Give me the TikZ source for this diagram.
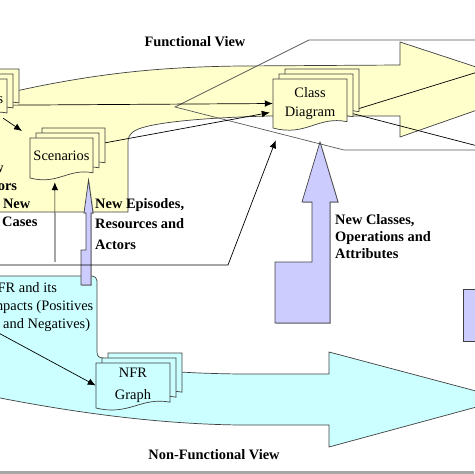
\documentclass[tikz,border=0pt]{standalone}
\usepackage{fontspec}
\setmainfont{Liberation Serif}
\usetikzlibrary{shadows,arrows.meta}

\definecolor{funcfill}{HTML}{FFFFCC}
\definecolor{nfrfill}{HTML}{CCFFFF}
\definecolor{lilacfill}{HTML}{CCCCFF}

\pgfdeclarelayer{shapes}
\pgfdeclarelayer{links}
\pgfsetlayers{shapes,links,main}

% лист документа с волнистым низом
\newcommand{\docpage}[5]{%
  \filldraw[fill=#5, draw=black!75, line width=0.6pt] ({#1},{#2}) -- ({#3},{#2}) -- ({#3},{(#4)-0.13*((#4)-(#2))})
    .. controls ({(#3)-0.4*((#3)-(#1))},{(#4)-0.25*((#4)-(#2))}) and ({(#1)+0.45*((#3)-(#1))},{(#4)+0.18*((#4)-(#2))}) .. ({#1},{#4}) -- cycle;}
% стопка из трёх листов
\newcommand{\docstack}[5]{%
  \docpage{#1+12}{#2-10}{#3+12}{#4-10}{#5}
  \docpage{#1+6}{#2-5}{#3+6}{#4-5}{#5}
  \docpage{#1}{#2}{#3}{#4}{#5}}

\begin{document}
\begin{tikzpicture}[x=0.03cm, y=-0.03cm,
    outline/.style={draw=black!75, line width=0.6pt},
    flow/.style={-{Latex[length=2.4mm,width=2mm]}, line width=0.6pt},
    lilac/.style={outline, fill=lilacfill, drop shadow={shadow xshift=0.8pt, shadow yshift=-0.8pt, fill=black!45, opacity=0.6}},
    doclabel/.style={inner sep=0pt, align=center, font=\fontsize{12.3}{#1}\selectfont},
    note/.style={inner sep=0pt, align=left, anchor=west, font=\fontsize{12.3}{#1}\selectfont\bfseries},
    viewlabel/.style={inner sep=0pt, font=\fontsize{12.3}{15}\selectfont\bfseries}]
	\useasboundingbox (0,0) rectangle (474,474);

	%%% Фоновые фигуры
	\begin{pgfonlayer}{shapes}
	% Функциональный вид
	\filldraw[outline, fill=funcfill] (-10,97) .. controls (90,73) and (160,67) .. (240,66) -- (400,65) -- (400,42) -- (540,88) -- (400,137) -- (400,116) -- (270,116) .. controls (190,118) and (142,124) .. (133,132) .. controls (129,135) and (128,138) .. (128,143) -- (128,212) -- (-10,212) -- cycle;

	% Нефункциональный вид
	\filldraw[outline, fill=nfrfill] (-10,276) -- (92,276) .. controls (95,276) and (97,278) .. (97,281) -- (97,352) .. controls (97,356) and (99,358) .. (103,358) .. controls (130,368) and (160,373) .. (240,374) -- (329,374) -- (329,352) -- (506,399) -- (329,447) -- (329,425) -- (240,425) .. controls (150,424) and (60,410) .. (-10,396) -- cycle;

	% Контур справа
	\draw[draw=black!65, line width=0.6pt] (560,40) -- (309,40) -- (175,107) -- (344,150) -- (560,150);

	% Блочные стрелки
	\filldraw[lilac] (88.5,180) -- (93,213) -- (91,213) -- (91,285) -- (81,285) -- (81,250) -- (86,250) -- (86,213) -- (84,213) -- cycle;
	\filldraw[lilac] (320,142) -- (338,202) -- (330,202) -- (330,323) -- (275,323) -- (275,262) -- (312,262) -- (312,202) -- (302,202) -- cycle;
	\filldraw[lilac] (463,289) rectangle (490,341);

	% Нижняя рамка
	\draw[line width=2.5pt, black!35] (0,472.5) -- (474,472.5);
	\end{pgfonlayer}

	%%% Документы
	\docstack{-60}{79}{7}{118}{funcfill}
	\node[doclabel=15pt, minimum width=2.01cm, minimum height=1.17cm] (uc) at (-26.5,98.5) {Use Cases};

	\docstack{30}{138}{93}{178}{funcfill}
	\node[doclabel=15pt, minimum width=1.89cm, minimum height=1.2cm] (sc) at (61.5,156) {Scenarios};

	\docstack{273}{79}{347}{128}{funcfill}
	\node[doclabel=16.2pt, minimum width=2.22cm, minimum height=1.47cm] (cd) at (310,103.5) {Class\\Diagram};

	\docstack{96}{363}{170}{408}{nfrfill}
	\node[doclabel=18.5pt, minimum width=2.22cm, minimum height=1.35cm] (ng) at (133,385.5) {NFR\\Graph};

	%%% Подписи
	\node[viewlabel] (fv) at (195,42) {Functional View};
	\node[viewlabel] (nfv) at (214,455) {Non-Functional View};

	\node[note=15.4pt] (nuc) at (-24,195) {New\\Actors\\and New\\Use Cases};
	\node[note=17.4pt] (nep) at (95,224) {New Episodes,\\Resources and\\Actors};
	\node[note=14.5pt] (ncl) at (335,237) {New Classes,\\Operations and\\Attributes};
	\node[inner sep=0pt, align=left, anchor=west, font=\fontsize{12.3}{15.3}\selectfont] (nfrtxt) at (-13,307)
		{NFR and its\\Impacts (Positives\\\hspace*{0.48cm}and Negatives)};

	%%% Связи
	\begin{pgfonlayer}{links}
	\coordinate (busW) at (-10,265);
	\coordinate (busE) at (228,265);
	\coordinate (busUp) at (55,262);
	\coordinate (ucTip) at (22,131);
	\coordinate (outA) at (520,59);
	\coordinate (outB) at (520,157);

	\draw[flow] ([yshift=-0.2cm]uc.east) -- (cd.west);
	\draw[flow] ([xshift=-0.12cm]uc.south east) -- (ucTip);
	\draw[flow] ([yshift=0.33cm]sc.east) -- ([xshift=-0.09cm,yshift=-0.27cm]cd.west);
	\draw[flow] (busW) -- (busE) -- ([xshift=0.09cm,yshift=-0.36cm]cd.south west);
	\draw[flow] (busUp) -- ([xshift=-0.2cm,yshift=-0.18cm]sc.south);
	\draw[flow] ([yshift=0.15cm]nfrtxt.south west) -- (ng.west);
	\draw[line width=0.6pt] ([yshift=-0.26cm]cd.east) -- (outA);
	\draw[line width=0.6pt] ([yshift=-0.26cm]cd.east) -- (outB);
	\end{pgfonlayer}
\end{tikzpicture}
\end{document}
